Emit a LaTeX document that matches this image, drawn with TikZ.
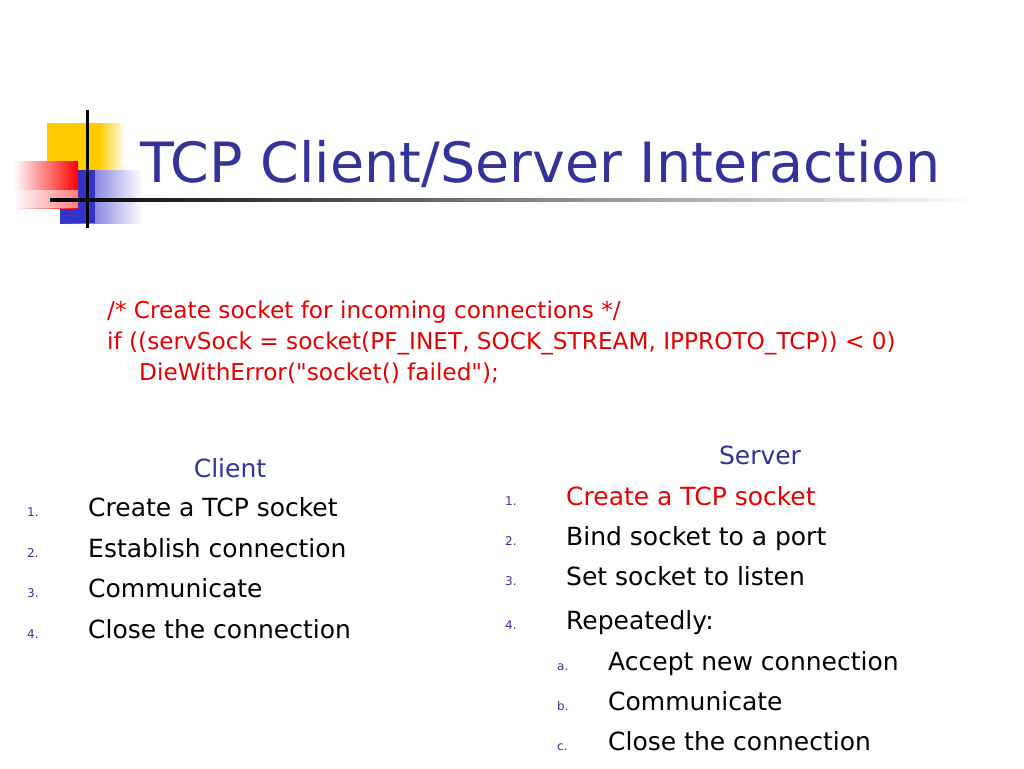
\documentclass[tikz,border=0pt]{standalone}
\usepackage{fontspec}
\setmainfont{DejaVu Sans}
\newfontfamily\codefont{DejaVu Sans}[Ligatures=ResetAll]
\definecolor{titleblue}{RGB}{51,51,153}
\definecolor{logoyellow}{RGB}{255,204,0}
\definecolor{logoblue}{RGB}{51,51,204}
\definecolor{codered}{RGB}{230,0,0}
\tikzset{
  txt/.style={anchor=base west, inner sep=0pt, font=\fontsize{25}{25}\selectfont},
  num/.style={anchor=base west, inner sep=0pt, text=titleblue, font=\fontsize{12}{12}\selectfont},
  code/.style={anchor=base west, inner sep=0pt, text=codered, font=\codefont\fontsize{23.2}{23.2}\selectfont},
  head/.style={anchor=base, inner sep=0pt, text=titleblue, font=\fontsize{25}{25}\selectfont}
}
\begin{document}
\begin{tikzpicture}[x=1pt,y=-1pt]
        \useasboundingbox (0,0) rectangle (1024,768);

        %Logo
        \fill[logoyellow] (47,123) rectangle (100,170);
        \shade[left color=logoyellow, right color=white] (99.5,123) rectangle (125,170);
        \shade[left color=logoblue, right color=white] (60,170) rectangle (142,223);
        \fill[logoblue] (60,170) rectangle (95,223);
        \shade[left color=white, right color=red] (13,161) rectangle (78,208);
        \fill[white, opacity=0.5] (13,190) rectangle (78,208);
        \draw[line width=3pt] (87,110) -- (87,228);
        \shade[left color=black, right color=white] (50,198.5) rectangle (980,201.5);

        %Titulo
        \node[anchor=base west, inner sep=0pt, text=titleblue, font=\fontsize{55.5}{55.5}\selectfont] (title) at (140,182) {TCP Client/Server Interaction};

        %Codigo
        \node[code] (code1) at (107,318) {/* Create socket for incoming connections */};
        \node[code] (code2) at (107,349) {if ((servSock = socket(PF\_INET, SOCK\_STREAM, IPPROTO\_TCP)) < 0)};
        \node[code] (code3) at (139,380) {DieWithError("socket() failed");};

        %Cliente
        \node[head] (client) at (230,477) {Client};
        \foreach \i/\y/\t in {1/516/Create a TCP socket, 2/557/Establish connection, 3/597/Communicate, 4/638/Close the connection} {
            \node[num] (cnum\i) at (27,\y) {\i.};
            \node[txt] (citem\i) at (88,\y) {\t};
        }

        %Servidor
        \node[head] (server) at (760,464) {Server};
        \node[num] (snum1) at (505,505) {1.};
        \node[txt, text=codered] (sitem1) at (566,505) {Create a TCP socket};
        \foreach \i/\y/\t in {2/545/Bind socket to a port, 3/585/Set socket to listen, 4/629/Repeatedly:} {
            \node[num] (snum\i) at (505,\y) {\i.};
            \node[txt] (sitem\i) at (566,\y) {\t};
        }
        \foreach \l/\y/\t in {a/670/Accept new connection, b/710/Communicate, c/750/Close the connection} {
            \node[num] (sub\l) at (557,\y) {\l.};
            \node[txt] (subitem\l) at (608,\y) {\t};
        }
\end{tikzpicture}
\end{document}
